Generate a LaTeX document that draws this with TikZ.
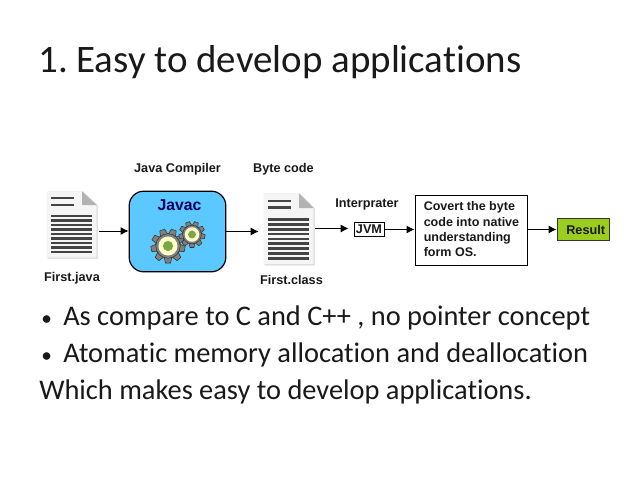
\documentclass[tikz,border=0pt]{standalone}
\usepackage{fontspec}
\setmainfont{Carlito}[Ligatures=NoCommon]
\newfontfamily\labelfont{Liberation Sans}
\usetikzlibrary{positioning}
\usetikzlibrary{calc}
\usetikzlibrary{arrows.meta}
\definecolor{javacblue}{HTML}{5BC8FF}
\definecolor{resultgreen}{HTML}{9ACD1E}
\definecolor{docgrey}{HTML}{444444}
\frenchspacing
\newcommand{\slidebullet}{\makebox[18pt][l]{\hspace{1.5pt}\scalebox{.75}{\textbullet}}}
\tikzset{
        slidetext/.style={anchor=base west, inner sep=0pt, font=\fontsize{21.3pt}{24pt}\selectfont, text=black!90},
        titletext/.style={anchor=base west, inner sep=0pt, font=\fontsize{29.2pt}{30pt}\selectfont, text=black!90},
        caption/.style={inner sep=0pt, font=\labelfont\bfseries\fontsize{9.5pt}{10pt}\selectfont, text=black!90},
        wire/.style={draw=black, line width=0.7pt, -{Latex[length=6pt,width=6pt]}},
        docbox/.style={minimum width=37.5pt, inner sep=0pt},
        doc/.pic={
          % sheet with folded corner
          \fill[black!18] (-24.5,33.5) -- (25.5,33.5) -- (25.5,-20) -- (11,-33.5) -- (-24.5,-33.5) -- cycle;
          \fill[white!96!black] (-25.5,32.5) -- (24.5,32.5) -- (24.5,-20) -- (10,-33.5) -- (-25.5,-33.5) -- cycle;
          \fill[black!30] (10,-33.5) -- (10,-20) -- (24.5,-20) -- cycle;
          \foreach \y in {-28,-21.5}
            \fill[docgrey] (-21,\y) rectangle (2,\y+2.2);
          \foreach \y in {-10.5,-6,...,26}
            \fill[docgrey] (-21,\y) rectangle (20,\y+2.6);
        },
        gear/.pic={
          \foreach \a in {0,40,...,320}
            \filldraw[fill=black!50, draw=black!80, line width=0.4pt, rotate=\a] (-0.24,0.6) -- (-0.15,1) -- (0.15,1) -- (0.24,0.6) -- cycle;
          \filldraw[fill=black!50, draw=black!80, line width=0.4pt] (0,0) circle (0.72);
          \fill[yellow!20!white] (0,0) circle (0.56);
          \fill[yellow!50!green!75!black] (0,0) circle (0.3);
        },
}
\begin{document}
\begin{tikzpicture}[x=0.75pt,y=-0.75pt]
      \useasboundingbox (0,0) rectangle (638,478);
      \fill[white] (0,0) rectangle (638,478);
      % TITLE
      \node[titletext] (title) at (38,73) {1. Easy to develop applications};

      % COMPILE STAGE
      \node[docbox, minimum height=50pt] (firstdoc) at (72,225) {};
      \pic at (firstdoc) {doc};
      \node[caption] (firstname) at (72,278) {First.java};
      \node[draw=black, line width=0.9pt, fill=javacblue, rounded corners=11pt, minimum width=72.5pt, minimum height=60.5pt, inner sep=0pt] (javac) at (177.5,231.5) {};
      \node[caption, font=\labelfont\bfseries\fontsize{11.8pt}{12pt}\selectfont, text=blue!35!black] (javaclabel) at (179.5,205) {Javac};
      \node[caption] (compiler) at (177.5,169) {Java Compiler};
      \pic[scale=17] at (168,246) {gear};
      \pic[scale=13] at (192,234.5) {gear};
      \node[docbox, minimum height=53pt] (classdoc) at (289,229.5) {};
      \pic[yscale=1.07] at (classdoc) {doc};
      \node[caption] (bytecode) at (283.5,169) {Byte code};
      \node[caption] (classname) at (291.5,280) {First.class};

      % RUN STAGE
      \node[caption] (interp) at (367,204) {Interprater};
      \node[draw=black, line width=0.6pt, fill=white, minimum width=22.5pt, minimum height=11pt, inner sep=0pt, caption] (jvm) at (369,229.5) {JVM};
      \node[draw=black, line width=0.7pt, fill=white, minimum width=84pt, minimum height=52.5pt, inner sep=0pt] (cover) at (471,230) {};
      \node[caption, anchor=north west, align=left, font=\labelfont\bfseries\fontsize{9.4pt}{11.4pt}\selectfont] (covertext) at (423.5,201.5) {Covert the byte\\code into native\\understanding\\form OS.};
      \node[draw=black!80, line width=0.7pt, fill=resultgreen, minimum width=39pt, minimum height=17pt, inner sep=0pt, caption] (result) at (583,229.5) {\hspace{4pt}Result};

      % WIRING
      \draw[wire] ($(firstdoc.east)+(2,6)$) coordinate(firstout) -- (javac.west |- firstout);
      \draw[wire] (javac.east) -- ($(classdoc.west |- javac.east)+(-5,0)$);
      \draw[wire] ($(classdoc.east)+(1,-1)$) coordinate(classout) -- ($(jvm.west |- classout)+(-5,0)$);
      \draw[wire] (jvm.east) -- (cover.west |- jvm.east);
      \draw[wire] (cover.east |- result.west) -- (result.west);

      % BULLETS
      \node[slidetext] (bulletone) at (39,325) {\slidebullet As compare to C and C++ , no pointer concept};
      \node[slidetext] (bullettwo) at (39,362) {\slidebullet Atomatic memory allocation and deallocation};
      \node[slidetext] (closing) at (39,399) {Which makes easy to develop applications.};
\end{tikzpicture}
\end{document}
